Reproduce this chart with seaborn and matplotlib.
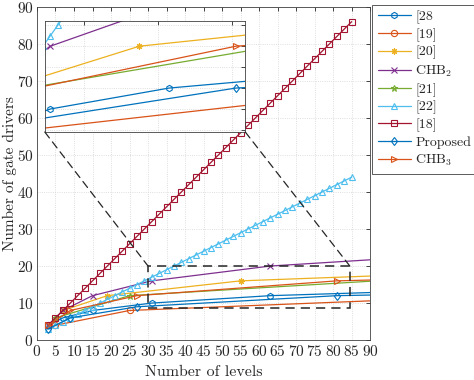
## Gate drivers vs number of levels, with zoomed inset

import seaborn as sns
import matplotlib
matplotlib.use("Agg")
import matplotlib.pyplot as plt
from matplotlib.patches import Rectangle, ConnectionPatch
import pandas as pd

###################################################################################################

## data

lv_28 = [3, 7, 15, 31, 63, 127]
gd_28 = [4, 6, 8, 10, 12, 14]

lv_19 = [5, 25, 125]
gd_19 = [4, 8, 12]

lv_20 = [7, 19, 55, 163]
gd_20 = [8, 12, 16, 20]

lv_chb2 = [3, 7, 15, 31, 63, 127]
gd_chb2 = [4, 8, 12, 16, 20, 24]

lv_21 = [5, 25, 125]
gd_21 = [6, 12, 18]

lv_22 = [3, 5, 7, 9, 11, 13, 15, 17, 19, 21, 23, 25, 27, 29, 31, 33, 35, 37, 39, 41, 43,
         45, 47, 49, 51, 53, 55, 57, 59, 61, 63, 65, 67, 69, 71, 73, 75, 77, 79, 81, 83, 85]
gd_22 = [3, 4, 5, 6, 7, 8, 9, 10, 11, 12, 13, 14, 15, 16, 17, 18, 19, 20, 21, 22, 23,
         24, 25, 26, 27, 28, 29, 30, 31, 32, 33, 34, 35, 36, 37, 38, 39, 40, 41, 42, 43, 44]

lv_18 = [3, 5, 7, 9, 11, 13, 15, 17, 19, 21, 23, 25, 27, 29, 31, 33, 35, 37, 39, 41, 43,
         45, 47, 49, 51, 53, 55, 57, 59, 61, 63, 65, 67, 69, 71, 73, 75, 77, 79, 81, 83, 85]
gd_18 = [4, 6, 8, 10, 12, 14, 16, 18, 20, 22, 24, 26, 28, 30, 32, 34, 36, 38, 40, 42, 44,
         46, 48, 50, 52, 54, 56, 58, 60, 62, 64, 66, 68, 70, 72, 74, 76, 78, 80, 82, 84, 86]

lv_prop = [3, 9, 27, 81, 243]
gd_prop = [3, 6, 9, 12, 15]

lv_chb3 = [3, 9, 27, 81, 243]
gd_chb3 = [4, 8, 12, 16, 20]

labels = ["[28", "[19]", "[20]", "CHB$_2$", "[21]", "[22]", "[18]", "Proposed", "CHB$_3$"]
colors = ["#0072BD", "#D95319", "#EDB120", "#7E2F8E", "#77AC30",
          "#4DBEEE", "#A2142F", "#0072BD", "#D95319"]
markers = ["h", "o", (8, 2, 0), "x", "*", "^", "s", "d", ">"]

series = [(lv_28, gd_28), (lv_19, gd_19), (lv_20, gd_20), (lv_chb2, gd_chb2),
          (lv_21, gd_21), (lv_22, gd_22), (lv_18, gd_18), (lv_prop, gd_prop),
          (lv_chb3, gd_chb3)]

###################################################################################################

sns.set_theme(style="white")
plt.rcParams["font.family"] = ["cmr10", "DejaVu Serif"]
plt.rcParams["mathtext.fontset"] = "cm"
plt.rcParams["axes.formatter.use_mathtext"] = True

fig = plt.figure(figsize=(4.74, 3.8), dpi=100)
ax = fig.add_axes([0.078, 0.105, 0.703, 0.877])
axins = fig.add_axes([0.0945, 0.6526, 0.423, 0.292])


def draw(a, legend):
    for (lv, gd), lab, c, m in zip(series, labels, colors, markers):
        df = pd.DataFrame({"levels": lv, "drivers": gd})
        sns.lineplot(data=df, x="levels", y="drivers", ax=a, color=c, marker=m,
                     markersize=4.5, markerfacecolor="none", markeredgecolor=c,
                     markeredgewidth=0.8, linewidth=0.9, estimator=None,
                     label=lab if legend else None, legend=legend)


def style(a):
    a.grid(True, linestyle=":", color="#d4d4d4", linewidth=0.6)
    a.tick_params(direction="in", top=True, right=True, length=3, width=0.6,
                  colors="#262626", labelsize=11, pad=2.5)
    for s in a.spines.values():
        s.set_color("#404040")
        s.set_linewidth(0.6)
    a.set_xlabel("")
    a.set_ylabel("")


draw(ax, True)
style(ax)
ax.set_xlim(0, 90)
ax.set_ylim(0, 90)
ax.set_xticks(range(0, 91, 5))
ax.set_yticks(range(0, 91, 10))
ax.set_xlabel("Number of levels", fontsize=11.5, labelpad=5)
ax.set_ylabel("Number of gate drivers", fontsize=11, labelpad=0)

# zoom box on the main axes
ax.add_patch(Rectangle((30, 8.75), 54.5, 11.25, fill=False, ls=(0, (6, 4)),
                       ec="#262626", lw=1.1, zorder=5))

draw(axins, False)
style(axins)
axins.set_facecolor("white")
axins.set_xlim(29.5, 83.5)
axins.set_ylim(7.8, 18.4)
axins.set_xticks([40, 60, 80])
axins.set_yticks([8, 10, 12, 14, 16, 18])
axins.set_xticklabels([])
axins.set_yticklabels([])

for xa, xb in [(0, 30), (1, 84.5)]:
    con = ConnectionPatch(xyA=(xa, 0), coordsA=axins.transAxes, xyB=(xb, 20),
                          coordsB=ax.transData, ls=(0, (6, 4)), color="#262626", lw=0.9)
    fig.add_artist(con)

leg = ax.legend(loc="upper left", bbox_to_anchor=(0.785, 0.987),
                bbox_transform=fig.transFigure, borderaxespad=0, fontsize=10,
                fancybox=False, framealpha=1, edgecolor="#404040",
                labelspacing=0.3, handlelength=2.4, handletextpad=0.3, borderpad=0.4)
leg.get_frame().set_linewidth(0.6)

fig.savefig("out.png", dpi=100)
